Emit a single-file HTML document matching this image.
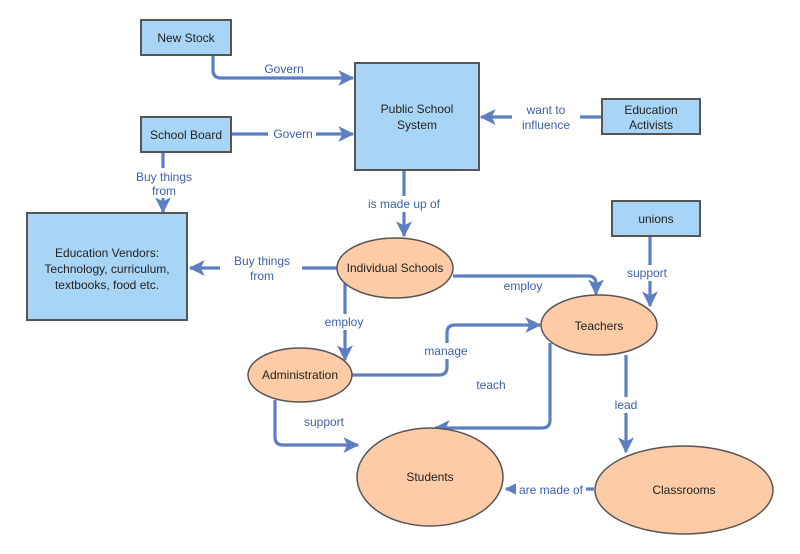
<!DOCTYPE html>
<html><head><meta charset="utf-8"><style>
html,body{margin:0;padding:0;background:#fff;}
svg{display:block;}
text{font-family:"Liberation Sans",sans-serif;font-size:12px;}
.n{fill:#222;text-anchor:middle;}
.l{fill:#3f5fa8;text-anchor:middle;}
.c{fill:none;stroke:#5d7fc1;stroke-width:3.2;stroke-linejoin:round;}
.b{fill:#a8d5f6;stroke:#555;stroke-width:2;}
.e{fill:#fdcba5;stroke:#555;stroke-width:1.5;}
</style></head><body>
<svg width="800" height="554" viewBox="0 0 800 554" xmlns="http://www.w3.org/2000/svg">
<defs><marker id="a" viewBox="0 0 12 12" refX="11" refY="6" markerWidth="5" markerHeight="5" orient="auto" markerUnits="strokeWidth"><path d="M0,0 L12,6 L0,12 L3,6 z" fill="#5d7fc1"/></marker></defs>
<path class="c" d="M213,55 V70 Q213,78 221,78 H353" marker-end="url(#a)"/>
<path class="c" d="M231,134 H353" marker-end="url(#a)"/>
<path class="c" d="M163,152 V212" marker-end="url(#a)"/>
<path class="c" d="M601,117 H481" marker-end="url(#a)"/>
<path class="c" d="M404,170 V236" marker-end="url(#a)"/>
<path class="c" d="M337,268 H190" marker-end="url(#a)"/>
<path class="c" d="M453,276 H588 Q596,276 596,284 V294" marker-end="url(#a)"/>
<path class="c" d="M650,236 V306" marker-end="url(#a)"/>
<path class="c" d="M345,283 V360" marker-end="url(#a)"/>
<path class="c" d="M352,375 H439 Q447,375 447,367 V333 Q447,325 455,325 H540" marker-end="url(#a)"/>
<path class="c" d="M550,343 V420 Q550,428 542,428 H435" marker-end="url(#a)"/>
<path class="c" d="M275,400 V437 Q275,445 283,445 H358" marker-end="url(#a)"/>
<path class="c" d="M626,355 V452" marker-end="url(#a)"/>
<path class="c" d="M594,489 H506" marker-end="url(#a)"/>
<rect x="268" y="127" width="48" height="14" fill="#fff"/>
<rect x="130" y="168" width="66" height="30" fill="#fff"/>
<rect x="512" y="102" width="68" height="32" fill="#fff"/>
<rect x="362" y="196" width="84" height="16" fill="#fff"/>
<rect x="220" y="253" width="82" height="30" fill="#fff"/>
<rect x="620" y="265" width="54" height="16" fill="#fff"/>
<rect x="320" y="314" width="48" height="16" fill="#fff"/>
<rect x="424" y="343" width="46" height="16" fill="#fff"/>
<rect x="610" y="397" width="32" height="16" fill="#fff"/>
<rect x="516" y="482" width="70" height="15" fill="#fff"/>
<rect class="b" x="141" y="20" width="90" height="35"/>
<text class="n" x="186" y="42">New Stock</text>
<rect class="b" x="355" y="63" width="124" height="107"/>
<text class="n" x="417" y="113">Public School</text>
<text class="n" x="417" y="129">System</text>
<rect class="b" x="141" y="117" width="90" height="35"/>
<text class="n" x="186" y="139">School Board</text>
<rect class="b" x="27" y="213" width="160" height="107"/>
<text class="n" x="107" y="257">Education Vendors:</text>
<text class="n" x="107" y="273">Technology, curriculum,</text>
<text class="n" x="107" y="289">textbooks, food etc.</text>
<rect class="b" x="602" y="99" width="98" height="35"/>
<text class="n" x="651" y="114">Education</text>
<text class="n" x="651" y="129">Activists</text>
<rect class="b" x="612" y="201" width="88" height="35"/>
<text class="n" x="656" y="223">unions</text>
<ellipse class="e" cx="395" cy="268" rx="58" ry="30"/>
<text class="n" x="395" y="272">Individual Schools</text>
<ellipse class="e" cx="599" cy="325" rx="58" ry="30"/>
<text class="n" x="599" y="330">Teachers</text>
<ellipse class="e" cx="300" cy="375" rx="52" ry="27"/>
<text class="n" x="300" y="379">Administration</text>
<ellipse class="e" cx="430" cy="477" rx="73" ry="49"/>
<text class="n" x="430" y="481">Students</text>
<ellipse class="e" cx="684" cy="490" rx="89" ry="44"/>
<text class="n" x="684" y="494">Classrooms</text>
<text class="l" x="284" y="73">Govern</text>
<text class="l" x="293" y="138">Govern</text>
<text class="l" x="164" y="181">Buy things</text>
<text class="l" x="164" y="195">from</text>
<text class="l" x="546" y="114">want to</text>
<text class="l" x="546" y="129">influence</text>
<text class="l" x="404" y="208">is made up of</text>
<text class="l" x="262" y="265">Buy things</text>
<text class="l" x="262" y="280">from</text>
<text class="l" x="523" y="290">employ</text>
<text class="l" x="647" y="277">support</text>
<text class="l" x="344" y="326">employ</text>
<text class="l" x="446" y="355">manage</text>
<text class="l" x="491" y="389">teach</text>
<text class="l" x="324" y="426">support</text>
<text class="l" x="626" y="409">lead</text>
<text class="l" x="551" y="494">are made of</text>
</svg>
</body></html>
